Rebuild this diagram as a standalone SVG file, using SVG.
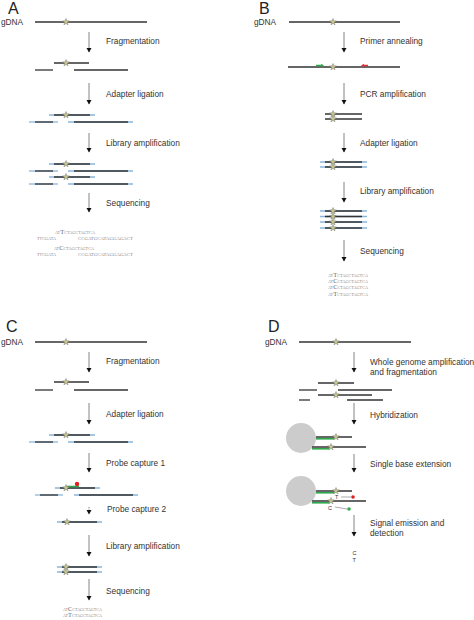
<svg xmlns="http://www.w3.org/2000/svg" width="474" height="620" viewBox="0 0 474 620">
<style>
.lbl{font-family:"Liberation Sans",Arial,sans-serif;font-size:8.3px;fill:#333}
.big{font-family:"Liberation Sans",Arial,sans-serif;font-size:16px;fill:#222}
.dna{stroke:#333;stroke-width:1.3;fill:none}
.ad{stroke:#8ab6dc;stroke-width:1.3;fill:none}
.pr{stroke:#2eaa4a;stroke-width:1.6;fill:none}
.arr{stroke:#666;stroke-width:0.8;fill:none;marker-end:url(#ah)}
.seq{font-family:"Liberation Serif","Times New Roman",serif;font-size:4.2px;fill:#888}
.seqb{font-size:6.5px;fill:#666}
.base{font-family:"Liberation Sans",Arial,sans-serif;font-size:5.5px;fill:#333}
</style>
<defs>
<marker id="ah" markerWidth="6" markerHeight="6" refX="4" refY="2.5" orient="auto" markerUnits="userSpaceOnUse">
<path d="M0,0 L4.5,2.5 L0,5Z" fill="#111"/>
</marker>
<path id="st" d="M0,-3.5 L0.82,-1.13 L3.33,-1.08 L1.33,0.43 L2.06,2.83 L0,1.4 L-2.06,2.83 L-1.33,0.43 L-3.33,-1.08 L-0.82,-1.13Z" fill="#c9c98a" stroke="#777" stroke-width="0.5"/>
</defs>
<rect width="474" height="620" fill="#fff"/>

<g id="connectors">
<line class="arr" x1="89" y1="32" x2="89" y2="52"/>
<line class="arr" x1="89" y1="83" x2="89" y2="104"/>
<line class="arr" x1="89" y1="133" x2="89" y2="152"/>
<line class="arr" x1="89" y1="193" x2="89" y2="212"/>
<line class="arr" x1="344" y1="32" x2="344" y2="52"/>
<line class="arr" x1="344" y1="83" x2="344" y2="104"/>
<line class="arr" x1="344" y1="133" x2="344" y2="152"/>
<line class="arr" x1="344" y1="182" x2="344" y2="202"/>
<line class="arr" x1="344" y1="240" x2="344" y2="261"/>
<line class="arr" x1="89" y1="352" x2="89" y2="372"/>
<line class="arr" x1="89" y1="403" x2="89" y2="424"/>
<line class="arr" x1="89" y1="453" x2="89" y2="472"/>
<line class="arr" x1="89" y1="507" x2="89" y2="514" stroke-dasharray="1.5,1"/>
<line class="arr" x1="89" y1="535" x2="89" y2="556"/>
<line class="arr" x1="89" y1="579" x2="89" y2="600"/>
<line class="arr" x1="354" y1="352" x2="354" y2="372"/>
<line class="arr" x1="354" y1="403" x2="354" y2="424"/>
<line class="arr" x1="354" y1="454" x2="354" y2="472"/>
<line class="arr" x1="354" y1="515" x2="354" y2="536"/>
</g>

<g id="panelA">
<text class="big" x="8" y="14">A</text>
<g id="A-gdna">
<text class="lbl" x="1" y="25">gDNA</text>
<line class="dna" x1="35" y1="22" x2="147" y2="22"/>
<use href="#st" x="66" y="22"/>
</g>
<text class="lbl" x="106" y="44">Fragmentation</text>
<g id="A-frag">
<line class="dna" x1="54" y1="63" x2="89" y2="63"/>
<use href="#st" x="66" y="63"/>
<line class="dna" x1="35" y1="70" x2="53" y2="70"/>
<line class="dna" x1="74" y1="70" x2="128" y2="70"/>
</g>
<text class="lbl" x="106" y="97">Adapter ligation</text>
<g id="A-adapt">
<line class="ad" x1="49" y1="115" x2="95" y2="115"/><line class="dna" x1="54" y1="115" x2="90" y2="115"/><use href="#st" x="66" y="115"/>
<line class="ad" x1="29" y1="122" x2="58" y2="122"/><line class="dna" x1="35" y1="122" x2="53" y2="122"/>
<line class="ad" x1="68" y1="122" x2="133" y2="122"/><line class="dna" x1="74" y1="122" x2="128" y2="122"/>
</g>
<text class="lbl" x="106" y="146">Library amplification</text>
<g id="A-lib">
<line class="ad" x1="49" y1="164" x2="95" y2="164"/><line class="dna" x1="54" y1="164" x2="90" y2="164"/><use href="#st" x="66" y="164"/>
<line class="ad" x1="29" y1="171" x2="58" y2="171"/><line class="dna" x1="35" y1="171" x2="53" y2="171"/>
<line class="ad" x1="68" y1="171" x2="133" y2="171"/><line class="dna" x1="74" y1="171" x2="128" y2="171"/>
<line class="ad" x1="49" y1="177" x2="95" y2="177"/><line class="dna" x1="54" y1="177" x2="90" y2="177"/><use href="#st" x="66" y="177"/>
<line class="ad" x1="29" y1="184" x2="58" y2="184"/><line class="dna" x1="35" y1="184" x2="53" y2="184"/>
<line class="ad" x1="68" y1="184" x2="133" y2="184"/><line class="dna" x1="74" y1="184" x2="128" y2="184"/>
</g>
<text class="lbl" x="106" y="206">Sequencing</text>
<g id="A-seq">
<text class="seq" x="55" y="234" textLength="40" lengthAdjust="spacingAndGlyphs">AT<tspan class="seqb">T</tspan>CTAGCTAGTCA</text>
<text class="seq" x="37" y="239.5" textLength="19" lengthAdjust="spacingAndGlyphs">TTCGATA</text>
<text class="seq" x="78" y="239.5" textLength="55" lengthAdjust="spacingAndGlyphs">CCGATGCATAGGAGACT</text>
<text class="seq" x="54" y="250" textLength="40" lengthAdjust="spacingAndGlyphs">AT<tspan class="seqb">C</tspan>CTAGCTAGTCA</text>
<text class="seq" x="37" y="255.5" textLength="19" lengthAdjust="spacingAndGlyphs">TTCGATA</text>
<text class="seq" x="78" y="255.5" textLength="55" lengthAdjust="spacingAndGlyphs">CCGATGCATAGGAGACT</text>
</g>
</g>

<g id="panelB">
<text class="big" x="259" y="14">B</text>
<g id="B-gdna">
<text class="lbl" x="254" y="25">gDNA</text>
<line class="dna" x1="289" y1="22" x2="400" y2="22"/>
<use href="#st" x="333" y="22"/>
</g>
<text class="lbl" x="360" y="44">Primer annealing</text>
<g id="B-primer">
<line class="dna" x1="288" y1="67" x2="400" y2="67"/>
<line stroke="#2eaa4a" stroke-width="1.5" x1="316" y1="65.5" x2="323" y2="65.5"/>
<path d="M321,64 L324,65.5 L321,67Z" fill="#2eaa4a"/>
<line stroke="#e03030" stroke-width="1.5" x1="362" y1="65.5" x2="368" y2="65.5"/>
<path d="M364,64 L361,65.5 L364,67Z" fill="#e03030"/>
<use href="#st" x="333" y="67"/>
</g>
<text class="lbl" x="360" y="97">PCR amplification</text>
<g id="B-pcr">
<line class="dna" x1="325" y1="114" x2="362" y2="114"/><use href="#st" x="333" y="114"/>
<line class="dna" x1="325" y1="119" x2="362" y2="119"/><use href="#st" x="333" y="119"/>
</g>
<text class="lbl" x="360" y="146">Adapter ligation</text>
<g id="B-adapt">
<line class="ad" x1="320" y1="162" x2="367" y2="162"/><line class="dna" x1="325" y1="162" x2="362" y2="162"/><use href="#st" x="333" y="162"/>
<line class="ad" x1="320" y1="167" x2="367" y2="167"/><line class="dna" x1="325" y1="167" x2="362" y2="167"/><use href="#st" x="333" y="167"/>
</g>
<text class="lbl" x="360" y="194">Library amplification</text>
<g id="B-lib">
<line class="ad" x1="320" y1="211" x2="367" y2="211"/><line class="dna" x1="325" y1="211" x2="362" y2="211"/><use href="#st" x="333" y="211"/>
<line class="ad" x1="320" y1="216.5" x2="367" y2="216.5"/><line class="dna" x1="325" y1="216.5" x2="362" y2="216.5"/><use href="#st" x="333" y="216.5"/>
<line class="ad" x1="320" y1="222" x2="367" y2="222"/><line class="dna" x1="325" y1="222" x2="362" y2="222"/><use href="#st" x="333" y="222"/>
<line class="ad" x1="320" y1="228" x2="367" y2="228"/><line class="dna" x1="325" y1="228" x2="362" y2="228"/><use href="#st" x="333" y="228"/>
</g>
<text class="lbl" x="360" y="254">Sequencing</text>
<g id="B-seq">
<text class="seq" x="328" y="277" textLength="40" lengthAdjust="spacingAndGlyphs">AT<tspan class="seqb">T</tspan>CTAGCTAGTCA</text>
<text class="seq" x="328" y="283" textLength="40" lengthAdjust="spacingAndGlyphs">AT<tspan class="seqb">C</tspan>CTAGCTAGTCA</text>
<text class="seq" x="328" y="289" textLength="40" lengthAdjust="spacingAndGlyphs">AT<tspan class="seqb">C</tspan>CTAGCTAGTCA</text>
<text class="seq" x="328" y="296" textLength="40" lengthAdjust="spacingAndGlyphs">AT<tspan class="seqb">T</tspan>CTAGCTAGTCA</text>
</g>
</g>

<g id="panelC">
<text class="big" x="6" y="332">C</text>
<g id="C-gdna">
<text class="lbl" x="1" y="345">gDNA</text>
<line class="dna" x1="35" y1="342" x2="147" y2="342"/>
<use href="#st" x="66" y="342"/>
</g>
<text class="lbl" x="106" y="364">Fragmentation</text>
<g id="C-frag">
<line class="dna" x1="54" y1="382" x2="89" y2="382"/><use href="#st" x="66" y="382"/>
<line class="dna" x1="35" y1="390" x2="53" y2="390"/>
<line class="dna" x1="74" y1="390" x2="128" y2="390"/>
</g>
<text class="lbl" x="106" y="417">Adapter ligation</text>
<g id="C-adapt">
<line class="ad" x1="49" y1="435" x2="95" y2="435"/><line class="dna" x1="54" y1="435" x2="90" y2="435"/><use href="#st" x="66" y="435"/>
<line class="ad" x1="29" y1="442" x2="58" y2="442"/><line class="dna" x1="35" y1="442" x2="53" y2="442"/>
<line class="ad" x1="68" y1="442" x2="133" y2="442"/><line class="dna" x1="74" y1="442" x2="128" y2="442"/>
</g>
<text class="lbl" x="106" y="466">Probe capture 1</text>
<g id="C-probe1">
<line class="ad" x1="55" y1="488" x2="100" y2="488"/><line class="dna" x1="60" y1="488" x2="95" y2="488"/>
<line class="pr" x1="67" y1="486.5" x2="79" y2="486.5"/>
<circle cx="77" cy="484" r="2.2" fill="#e02020"/>
<use href="#st" x="66" y="488"/>
<line class="ad" x1="35" y1="495" x2="63" y2="495"/><line class="dna" x1="40" y1="495" x2="58" y2="495"/>
<line class="ad" x1="74" y1="495" x2="138" y2="495"/><line class="dna" x1="79" y1="495" x2="133" y2="495"/>
</g>
<text class="lbl" x="107" y="512">Probe capture 2</text>
<g id="C-probe2">
<line class="ad" x1="57" y1="522" x2="102" y2="522"/><line class="dna" x1="62" y1="522" x2="97" y2="522"/><use href="#st" x="67" y="522"/>
</g>
<text class="lbl" x="106" y="549">Library amplification</text>
<g id="C-lib">
<line class="ad" x1="57" y1="567" x2="102" y2="567"/><line class="dna" x1="62" y1="567" x2="97" y2="567"/><use href="#st" x="66" y="567"/>
<line class="ad" x1="57" y1="572" x2="102" y2="572"/><line class="dna" x1="62" y1="572" x2="97" y2="572"/><use href="#st" x="66" y="572"/>
</g>
<text class="lbl" x="106" y="594">Sequencing</text>
<g id="C-seq">
<text class="seq" x="63" y="611" textLength="39" lengthAdjust="spacingAndGlyphs">AT<tspan class="seqb">C</tspan>CTAGCTAGTCA</text>
<text class="seq" x="63" y="617" textLength="39" lengthAdjust="spacingAndGlyphs">AT<tspan class="seqb">T</tspan>CTAGCTAGTCA</text>
</g>
</g>

<g id="panelD">
<text class="big" x="268" y="332">D</text>
<g id="D-gdna">
<text class="lbl" x="265" y="345">gDNA</text>
<line class="dna" x1="299" y1="342" x2="411" y2="342"/>
<use href="#st" x="336" y="342"/>
</g>
<text class="lbl" x="370" y="365">Whole genome amplification</text>
<text class="lbl" x="370" y="375">and fragmentation</text>
<g id="D-frag">
<line class="dna" x1="318" y1="383" x2="354" y2="383"/><use href="#st" x="336" y="383"/>
<line class="dna" x1="299" y1="390" x2="317" y2="390"/>
<line class="dna" x1="338" y1="390" x2="392" y2="390"/>
<line class="dna" x1="318" y1="395" x2="372" y2="395"/><use href="#st" x="336" y="395"/>
<line class="dna" x1="299" y1="400" x2="310" y2="400"/>
<line class="dna" x1="347" y1="400" x2="383" y2="400"/>
</g>
<text class="lbl" x="370" y="418">Hybridization</text>
<g id="D-hyb">
<circle cx="301" cy="438" r="15" fill="#cccccc"/>
<line class="dna" x1="316" y1="437" x2="352" y2="437"/>
<line class="pr" x1="316" y1="438.8" x2="334" y2="438.8"/>
<use href="#st" x="336" y="437"/>
<line class="dna" x1="312" y1="447" x2="366" y2="447"/>
<line class="pr" x1="312" y1="448.8" x2="329" y2="448.8"/>
<use href="#st" x="331" y="447"/>
</g>
<text class="lbl" x="370" y="467">Single base extension</text>
<g id="D-sbe">
<circle cx="301" cy="491" r="15" fill="#cccccc"/>
<line class="dna" x1="316" y1="491" x2="352" y2="491"/>
<line class="pr" x1="316" y1="492.8" x2="334" y2="492.8"/>
<use href="#st" x="336" y="491"/>
<text class="base" x="335" y="499">T</text>
<line stroke="#555" stroke-width="0.5" x1="341" y1="497" x2="351" y2="497"/>
<circle cx="353" cy="497" r="1.8" fill="#e02020"/>
<line class="dna" x1="312" y1="501" x2="366" y2="501"/>
<line class="pr" x1="312" y1="502.8" x2="329" y2="502.8"/>
<use href="#st" x="331" y="501"/>
<text class="base" x="328" y="510">C</text>
<line stroke="#555" stroke-width="0.5" x1="335" y1="507" x2="347" y2="509"/>
<circle cx="349" cy="509" r="1.8" fill="#2eaa4a"/>
</g>
<text class="lbl" x="370" y="526">Signal emission and</text>
<text class="lbl" x="370" y="536">detection</text>
<g id="D-detect">
<text class="base" x="352.5" y="555">C</text>
<text class="base" x="352.5" y="562">T</text>
</g>
</g>
</svg>
